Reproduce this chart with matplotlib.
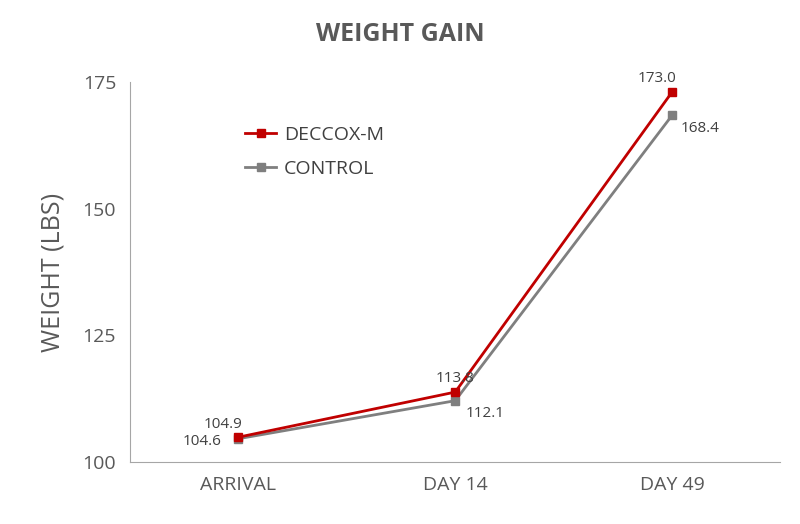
import matplotlib
matplotlib.use("Agg")
import matplotlib.pyplot as plt

categories = ["ARRIVAL", "DAY 14", "DAY 49"]
deccox = [104.9, 113.8, 173.0]
control = [104.6, 112.1, 168.4]

plt.rcParams['font.family'] = ['Open Sans', 'DejaVu Sans']
fig = plt.figure(figsize=(8, 5.24), dpi=100)
ax = fig.add_axes([0.1625, 0.1183, 0.813, 0.7252])
x = range(len(categories))
red = "#C00000"; gray = "#7F7F7F"
ax.plot(x, deccox, color=red, lw=2, marker="s", ms=6, label="DECCOX-M", zorder=3)
ax.plot(x, control, color=gray, lw=2, marker="s", ms=6, label="CONTROL", zorder=2)
ax.set_xlim(-0.5, 2.5)
ax.set_ylim(100, 175)
ax.set_yticks([100, 125, 150, 175])
ax.set_xticks(list(x))
ax.set_xticklabels(categories)
ax.tick_params(axis='both', length=0, labelsize=14, colors="#595959", pad=10)
for s in ["top", "right"]:
    ax.spines[s].set_visible(False)
for s in ["left", "bottom"]:
    ax.spines[s].set_color("#A6A6A6")
ax.set_ylabel("WEIGHT (LBS)", fontsize=18, color="#595959", labelpad=12)
fig.text(0.5, 0.91, "WEIGHT GAIN", ha="center", va="bottom", fontsize=18, fontweight="bold", color="#595959")
tc = "#404040"
offs_d = [(-0.07, 2.6, "center"), (0, 2.7, "center"), (-0.07, 2.6, "center")]
offs_c = [(-0.08, -0.6, "right"), (0.05, -2.6, "left"), (0.04, -2.6, "left")]
for i in x:
    dx, dy, ha = offs_d[i]
    ax.text(i + dx, deccox[i] + dy, f"{deccox[i]:.1f}", ha=ha, va="center", fontsize=11, color=tc)
    dx, dy, ha = offs_c[i]
    ax.text(i + dx, control[i] + dy, f"{control[i]:.1f}", ha=ha, va="center", fontsize=11, color=tc)
ax.legend(loc="upper left", bbox_to_anchor=(0.15, 0.93), frameon=False, fontsize=14,
          labelcolor="#404040", handlelength=1.6, handletextpad=0.4, labelspacing=0.8)
fig.savefig("out.png", dpi=100)
